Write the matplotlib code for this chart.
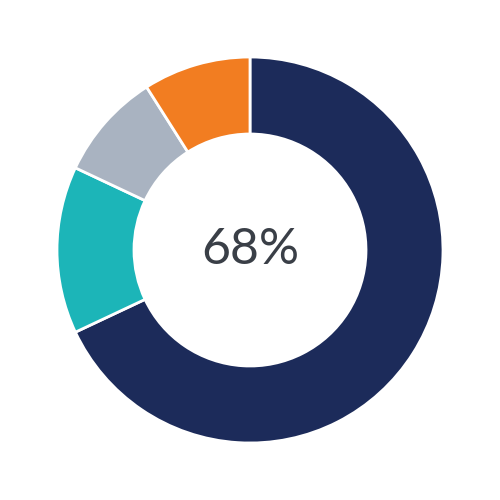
import matplotlib.pyplot as plt

labels = ['A', 'B', 'C', 'D']
values = [68, 14, 9, 9]
colors = ['#1c2b5a', '#1cb5b8', '#a9b3c1', '#f27d21']
center_label = '68%'

fig = plt.figure(figsize=(5, 5), dpi=100)
ax = fig.add_axes([0, 0, 1, 1])
R = 193 / 250
width = (193 - 116) / 250
ax.pie(values, colors=colors, startangle=90, counterclock=False, radius=R,
       wedgeprops=dict(width=width, edgecolor='white', linewidth=2))
ax.text(0, 0, center_label, ha='center', va='center', fontsize=36,
        family='Lato', fontweight='normal', color='#3a3f47')
ax.set_xlim(-1, 1)
ax.set_ylim(-1, 1)
ax.set_aspect('equal')
ax.axis('off')
fig.savefig('out.png', dpi=100, facecolor='white')
